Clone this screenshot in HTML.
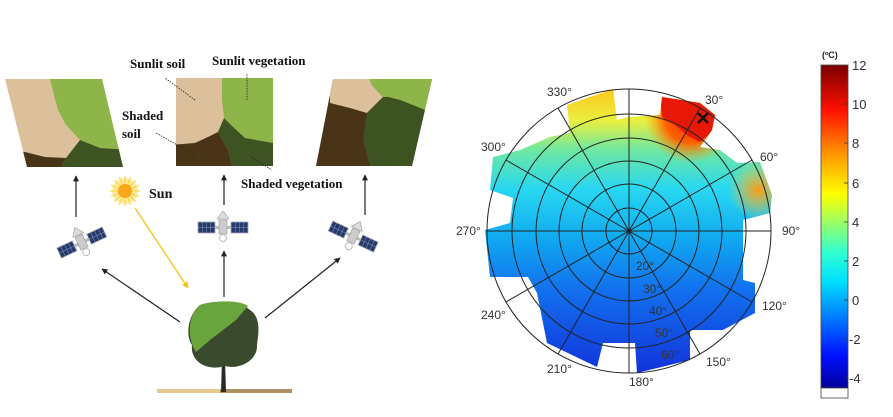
<!DOCTYPE html>
<html><head><meta charset="utf-8"><style>
html,body{margin:0;padding:0;background:#fff;}
svg{display:block;}
.lb{font-family:"Liberation Serif",serif;font-weight:bold;font-size:13px;fill:#111;}
.pl{font-family:"Liberation Sans",sans-serif;font-size:12px;fill:#333;}
</style></head><body>
<svg width="893" height="417" viewBox="0 0 893 417" xmlns="http://www.w3.org/2000/svg">
<defs>
<symbol id="sat" viewBox="-26 -20 52 40" overflow="visible">
  <rect x="-25" y="-6" width="17" height="11" fill="#253a6a" stroke="#aab" stroke-width="0.8"/>
  <rect x="8" y="-6" width="17" height="11" fill="#253a6a" stroke="#aab" stroke-width="0.8"/>
  <path d="M-25,-0.5H-8M8,-0.5H25M-20.7,-6V5M-16.5,-6V5M-12.3,-6V5M12.3,-6V5M16.5,-6V5M20.7,-6V5" stroke="#8899bb" stroke-width="0.5"/>
  <rect x="-8" y="-2" width="16" height="3" fill="#bbb"/>
  <rect x="-4" y="-8" width="8" height="14" fill="#ccc" stroke="#999" stroke-width="0.6"/>
  <path d="M-6,-9 L0,-17 L6,-9 Z" fill="#ddd" stroke="#999" stroke-width="0.6"/>
  <circle cx="0" cy="10" r="3.5" fill="#fff" stroke="#bbb" stroke-width="1"/>
</symbol>
<marker id="ah" viewBox="0 0 10 10" refX="9" refY="5" markerWidth="5" markerHeight="5" orient="auto"><path d="M0,0L10,5L0,10z" fill="#222"/></marker>
<marker id="ahy" viewBox="0 0 10 10" refX="9" refY="5" markerWidth="5" markerHeight="5" orient="auto"><path d="M0,0L10,5L0,10z" fill="#f5c518"/></marker>
<linearGradient id="dat" x1="0" y1="90" x2="0" y2="372" gradientUnits="userSpaceOnUse">
  <stop offset="0" stop-color="#ffc820"/><stop offset="0.11" stop-color="#e8f040"/>
  <stop offset="0.21" stop-color="#70e8a0"/><stop offset="0.35" stop-color="#28d8f0"/>
  <stop offset="0.53" stop-color="#10a8f0"/><stop offset="0.71" stop-color="#1270ee"/>
  <stop offset="1" stop-color="#1234dc"/>
</linearGradient>
<linearGradient id="cb" x1="0" y1="388" x2="0" y2="65" gradientUnits="userSpaceOnUse">
  <stop offset="0" stop-color="#00009a"/><stop offset="0.1" stop-color="#0010ff"/>
  <stop offset="0.33" stop-color="#00e0ff"/><stop offset="0.42" stop-color="#30ffd0"/>
  <stop offset="0.6" stop-color="#ffff00"/><stop offset="0.72" stop-color="#ff9a00"/>
  <stop offset="0.86" stop-color="#ff1000"/><stop offset="1" stop-color="#7a0000"/>
</linearGradient>
<radialGradient id="red" cx="690" cy="118" r="45" gradientUnits="userSpaceOnUse">
  <stop offset="0" stop-color="#ff2a00"/><stop offset="0.55" stop-color="#ff6000"/><stop offset="1" stop-color="#ffa000" stop-opacity="0"/>
</radialGradient>
<radialGradient id="org" cx="758" cy="190" r="30" gradientUnits="userSpaceOnUse">
  <stop offset="0" stop-color="#ff9a10"/><stop offset="1" stop-color="#ffd030" stop-opacity="0"/>
</radialGradient>
<clipPath id="p1"><path d="M5,79H102L123,167H27Z"/></clipPath>
<clipPath id="p2"><rect x="176" y="78" width="97" height="88"/></clipPath>
<clipPath id="p3"><path d="M333,79H432L412,166H316Z"/></clipPath>
<clipPath id="dc"><path d="M567,105 L613,89 L617,120 L628,117 L660,115 L662,97 L700,103 L715,115 L712,130 L700,147 L720,150 L737,163 L760,162 L772,195 L770,213 L743,220 L743,280 L755,283 L755,313 L723,330 L690,330 L690,360 L637,373 L635,343 L603,343 L597,367 L547,343 L537,293 L528,277 L490,277 L485,230 L510,223 L513,198 L490,190 L493,157 L520,150 L550,137 L570,133 Z"/></clipPath>
</defs>

<!-- Panel 1 -->
<g clip-path="url(#p1)">
  <rect x="0" y="70" width="130" height="100" fill="#dcc09c"/>
  <path d="M50,79 L54,95 L58,110 L66,125 L80,140 L100,148 L130,150 L130,70 Z" fill="#8db54a"/>
  <path d="M80,140 L100,148 L130,150 L130,170 L60,170 L66,158 Z" fill="#3e5322"/>
  <path d="M0,150 L25,152 L45,157 L66,158 L60,170 L0,170 Z" fill="#4a3418"/>
</g>
<!-- Panel 2 -->
<g clip-path="url(#p2)">
  <rect x="170" y="70" width="110" height="100" fill="#dcc09c"/>
  <path d="M222,78 L222,100 L224,118 L232,126 L245,138 L273,143 L273,78Z" fill="#8db54a"/>
  <path d="M218,132 L224,118 L232,126 L245,138 L273,143 L273,170 L233,170 L228,150Z" fill="#3e5322"/>
  <path d="M170,145 L195,143 L210,136 L218,132 L228,150 L233,170 L170,170Z" fill="#4a3418"/>
</g>
<!-- Panel 3 -->
<g clip-path="url(#p3)">
  <rect x="310" y="70" width="130" height="100" fill="#4a3418"/>
  <path d="M330,70 L366,70 L372,85 L383,97 L367,113 L350,108 L330,103Z" fill="#dcc09c"/>
  <path d="M366,70 L440,70 L440,110 L425,110 L400,100 L388,97 L383,97 L372,85Z" fill="#8db54a"/>
  <path d="M367,113 L383,97 L400,100 L425,110 L440,110 L440,170 L370,166 L363,140Z" fill="#3e5322"/>
</g>

<!-- labels left -->
<text class="lb" x="130" y="68">Sunlit soil</text>
<text class="lb" x="212" y="65">Sunlit vegetation</text>
<text class="lb" x="122" y="120">Shaded</text>
<text class="lb" x="122" y="138">soil</text>
<text class="lb" x="241" y="188">Shaded vegetation</text>
<g stroke="#222" stroke-width="0.8" stroke-dasharray="1.5,1.2" fill="none">
  <path d="M195,100 L165,78"/><path d="M247,100 L247,74"/>
  <path d="M195,155 L156,133"/><path d="M251,157 L272,170"/>
</g>

<!-- sun -->
<g transform="translate(125,191)">
  <circle r="13" fill="#ffe060" opacity="0.6"/>
  <g stroke="#ffd030" stroke-width="1">
    <path d="M0,-15V15M-15,0H15M-10.6,-10.6L10.6,10.6M-10.6,10.6L10.6,-10.6M-5.7,-13.9L5.7,13.9M5.7,-13.9L-5.7,13.9M-13.9,-5.7L13.9,5.7M-13.9,5.7L13.9,-5.7"/>
  </g>
  <circle r="7" fill="#f8a81a"/>
</g>
<text class="lb" x="149" y="198" style="font-size:14px">Sun</text>
<path d="M135,208 L188,288" stroke="#f5c518" stroke-width="1.3" marker-end="url(#ahy)"/>

<!-- arrows -->
<g stroke="#222" stroke-width="1.2" fill="none">
  <path d="M76,217 L76,176" marker-end="url(#ah)"/>
  <path d="M224,205 L224,175" marker-end="url(#ah)"/>
  <path d="M365,215 L365,175" marker-end="url(#ah)"/>
  <path d="M180,322 L102,269" marker-end="url(#ah)"/>
  <path d="M224,297 L224,251" marker-end="url(#ah)"/>
  <path d="M265,318 L340,258" marker-end="url(#ah)"/>
</g>

<!-- satellites -->
<use href="#sat" x="56" y="223" width="52" height="40" transform="rotate(-25 82 243)"/>
<use href="#sat" x="197" y="208" width="52" height="40"/>
<use href="#sat" x="327" y="217" width="52" height="40" transform="rotate(25 353 237)"/>

<!-- tree -->
<rect x="157" y="389" width="135" height="4" fill="#e6c890"/>
<rect x="220" y="389" width="72" height="4" fill="#8a6a48" opacity="0.6"/>
<path d="M221,392 L222,360 L225,360 L226,392Z" fill="#2b2a22"/>
<path d="M200,305 C215,300 240,300 250,310 C262,318 258,335 257,345 C258,360 240,370 225,366 C205,372 190,360 192,345 C185,335 188,315 200,305Z" fill="#3a4a2e"/>
<path d="M200,305 C215,300 240,300 248,306 L236,320 L210,340 L196,352 C188,340 186,318 200,305Z" fill="#6aa43c"/>

<!-- polar plot -->
<g clip-path="url(#dc)">
  <rect x="480" y="85" width="300" height="295" fill="url(#dat)"/>
  <rect x="640" y="80" width="100" height="100" fill="url(#red)"/>
  <path d="M660,95 L702,100 L716,114 L712,132 L700,142 L688,136 L675,125 L662,117Z" fill="#e81808"/>
  <rect x="725" y="155" width="60" height="70" fill="url(#org)"/>
</g>
<g fill="none" stroke="#222" stroke-width="1">
  <circle cx="629" cy="231" r="23"/><circle cx="629" cy="231" r="47"/>
  <circle cx="629" cy="231" r="70"/><circle cx="629" cy="231" r="93"/>
  <circle cx="629" cy="231" r="117"/><circle cx="629" cy="231" r="142"/>
  <path d="M629,89V373M487,231H771M558,108L700,354M700,108L558,354M506,160L752,302M506,302L752,160"/>
</g>
<path d="M698,113l10,10M708,113l-10,10" stroke="#111" stroke-width="2.5"/>
<g class="pl">
  <text x="547" y="96">330°</text><text x="705" y="104">30°</text>
  <text x="481" y="151">300°</text><text x="760" y="161">60°</text>
  <text x="456" y="235">270°</text><text x="782" y="235">90°</text>
  <text x="481" y="319">240°</text><text x="762" y="310">120°</text>
  <text x="547" y="373">210°</text><text x="706" y="366">150°</text>
  <text x="629" y="386">180°</text>
  <text x="636" y="270">20°</text><text x="643" y="293">30°</text>
  <text x="649" y="315">40°</text><text x="655" y="337">50°</text><text x="661" y="359">60°</text>
</g>

<!-- colorbar -->
<rect x="821" y="65" width="27" height="323" fill="url(#cb)" stroke="#444" stroke-width="0.8"/>
<rect x="821" y="388" width="27" height="10" fill="#fff" stroke="#444" stroke-width="0.8"/>
<g stroke="#333" stroke-width="0.8">
  <path d="M844,104h4M844,143h4M844,183h4M844,222h4M844,261h4M844,300h4M844,339h4M844,378h4"/>
</g>
<text x="822" y="58" style="font-family:'Liberation Sans',sans-serif;font-size:9px;font-weight:bold;fill:#222">(ºC)</text>
<g class="pl" style="font-size:13px">
  <text x="852" y="70">12</text><text x="852" y="109">10</text><text x="852" y="148">8</text>
  <text x="852" y="188">6</text><text x="852" y="227">4</text><text x="852" y="266">2</text>
  <text x="852" y="305">0</text><text x="849" y="344">-2</text><text x="849" y="383">-4</text>
</g>
</svg>
</body></html>
